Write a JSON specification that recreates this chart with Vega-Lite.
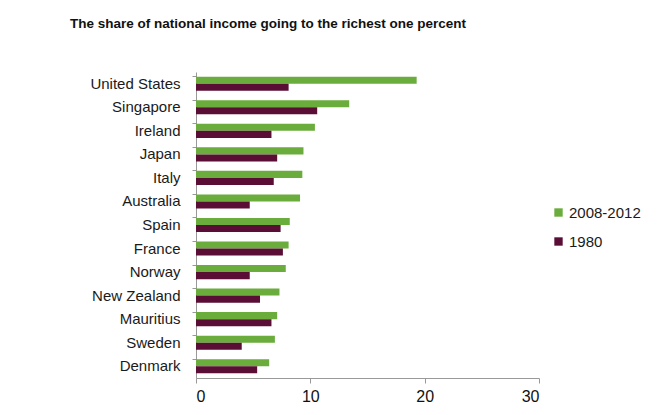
{
  "$schema": "https://vega.github.io/schema/vega-lite/v6.json",
  "autosize": "none",
  "width": 343,
  "height": 306,
  "padding": {"left": 196, "top": 72, "right": 126, "bottom": 37},
  "background": "white",
  "title": {
    "text": "The share of national income going to the richest one percent",
    "anchor": "start",
    "frame": "group",
    "dx": -126,
    "offset": 42,
    "font": "Liberation Sans",
    "fontSize": 13.5,
    "fontWeight": "bold",
    "color": "#111111"
  },
  "data": {
    "values": [
      {"country": "United States", "period": "2008-2012", "share": 19.3},
      {"country": "United States", "period": "1980", "share": 8.1},
      {"country": "Singapore", "period": "2008-2012", "share": 13.4},
      {"country": "Singapore", "period": "1980", "share": 10.6},
      {"country": "Ireland", "period": "2008-2012", "share": 10.4},
      {"country": "Ireland", "period": "1980", "share": 6.6},
      {"country": "Japan", "period": "2008-2012", "share": 9.4},
      {"country": "Japan", "period": "1980", "share": 7.1},
      {"country": "Italy", "period": "2008-2012", "share": 9.3},
      {"country": "Italy", "period": "1980", "share": 6.8},
      {"country": "Australia", "period": "2008-2012", "share": 9.1},
      {"country": "Australia", "period": "1980", "share": 4.7},
      {"country": "Spain", "period": "2008-2012", "share": 8.2},
      {"country": "Spain", "period": "1980", "share": 7.4},
      {"country": "France", "period": "2008-2012", "share": 8.1},
      {"country": "France", "period": "1980", "share": 7.6},
      {"country": "Norway", "period": "2008-2012", "share": 7.85},
      {"country": "Norway", "period": "1980", "share": 4.7},
      {"country": "New Zealand", "period": "2008-2012", "share": 7.3},
      {"country": "New Zealand", "period": "1980", "share": 5.6},
      {"country": "Mauritius", "period": "2008-2012", "share": 7.1},
      {"country": "Mauritius", "period": "1980", "share": 6.6},
      {"country": "Sweden", "period": "2008-2012", "share": 6.9},
      {"country": "Sweden", "period": "1980", "share": 4.0},
      {"country": "Denmark", "period": "2008-2012", "share": 6.4},
      {"country": "Denmark", "period": "1980", "share": 5.35}
    ]
  },
  "mark": {"type": "bar"},
  "encoding": {
    "y": {
      "field": "country",
      "type": "nominal",
      "sort": null,
      "scale": {"paddingInner": 0.4, "paddingOuter": 0.2},
      "axis": {
        "title": null,
        "bandPosition": 0,
        "labelFont": "Liberation Sans",
        "labelFontSize": 15,
        "labelColor": "#1a1a1a",
        "labelPadding": 12,
        "domainColor": "#999999",
        "tickColor": "#999999",
        "tickSize": 4,
        "grid": false
      }
    },
    "yOffset": {
      "field": "period",
      "type": "nominal",
      "sort": ["2008-2012", "1980"]
    },
    "x": {
      "field": "share",
      "type": "quantitative",
      "scale": {"domain": [0, 30], "nice": false},
      "axis": {
        "title": null,
        "values": [0, 10, 20, 30],
        "grid": false,
        "labelFont": "Liberation Sans",
        "labelFontSize": 16,
        "labelColor": "#111111",
        "labelPadding": 5,
        "domainColor": "#999999",
        "tickColor": "#999999",
        "tickSize": 5
      }
    },
    "color": {
      "field": "period",
      "type": "nominal",
      "scale": {"domain": ["2008-2012", "1980"], "range": ["#6aad3d", "#5a0e35"]},
      "legend": {
        "title": null,
        "orient": "none",
        "legendX": 355,
        "legendY": 133,
        "symbolType": "square",
        "symbolSize": 70,
        "symbolStrokeWidth": 0,
        "labelFont": "Liberation Sans",
        "labelFontSize": 15,
        "labelColor": "#1a1a1a",
        "labelOffset": 3,
        "rowPadding": 13
      }
    }
  },
  "config": {"view": {"stroke": null}}
}
